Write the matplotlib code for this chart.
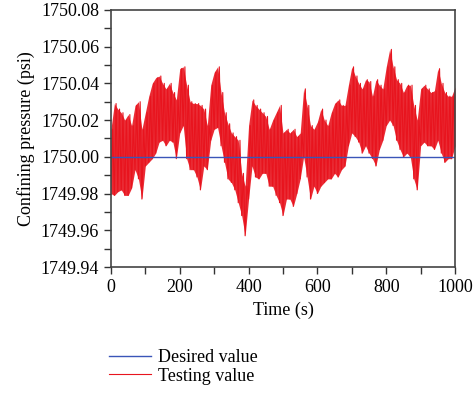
import matplotlib
matplotlib.use('Agg')
import matplotlib.pyplot as plt
from matplotlib.ticker import MultipleLocator
import numpy as np

# envelope of the testing signal read every 10 s (offset from 1750 psi)
time_steps = list(range(0, 1001, 10))
upper = [0.015, 0.029, 0.026, 0.024, 0.020, 0.023, 0.017, 0.028, 0.030, 0.015,
         0.024, 0.033, 0.040, 0.043, 0.044, 0.040, 0.037, 0.040, 0.035, 0.031,
         0.048, 0.049, 0.039, 0.030, 0.029, 0.029, 0.028, 0.026, 0.017, 0.039,
         0.046, 0.049, 0.035, 0.024, 0.018, 0.013, 0.011, 0.009, -0.009, -0.016,
         0.017, 0.031, 0.028, 0.026, 0.024, 0.022, 0.015, 0.020, 0.024, 0.028,
         0.013, 0.015, 0.013, 0.015, 0.011, 0.013, 0.037, 0.028, 0.017, 0.015,
         0.019, 0.026, 0.020, 0.017, 0.024, 0.029, 0.031, 0.028, 0.028, 0.039,
         0.049, 0.044, 0.040, 0.037, 0.042, 0.041, 0.033, 0.042, 0.039, 0.037,
         0.049, 0.0585, 0.049, 0.042, 0.040, 0.035, 0.039, 0.039, 0.028, 0.020,
         0.037, 0.039, 0.037, 0.035, 0.036, 0.048, 0.040, 0.035, 0.033, 0.033,
         0.038]
lower = [-0.020, -0.021, -0.019, -0.018, -0.021, -0.021, -0.017, -0.007, -0.012, -0.023,
         -0.005, -0.003, -0.001, 0.002, 0.008, 0.009, 0.006, 0.009, 0.008, -0.001,
         0.013, 0.017, -0.001, -0.007, -0.007, -0.011, -0.018, -0.005, -0.007, 0.009,
         0.015, 0.016, 0.006, -0.003, -0.012, -0.014, -0.018, -0.025, -0.032, -0.043,
         -0.023, -0.005, -0.011, -0.012, -0.009, -0.009, -0.016, -0.016, -0.021, -0.025,
         -0.032, -0.023, -0.023, -0.027, -0.020, -0.012, 0.000, -0.011, -0.023, -0.016,
         -0.020, -0.016, -0.014, -0.012, -0.012, -0.009, -0.011, -0.007, -0.005, 0.006,
         0.013, 0.011, 0.008, 0.002, 0.006, 0.002, -0.001, -0.005, 0.004, 0.009,
         0.017, 0.020, 0.017, 0.009, 0.004, 0.000, 0.002, 0.000, -0.012, -0.018,
         0.006, 0.008, 0.006, 0.006, 0.004, 0.009, 0.002, -0.003, -0.001, -0.001,
         0.006]
desired = 1750.00

# zigzag between the envelopes: low at each step, high half way between
t = []
p = []
for i, ts in enumerate(time_steps):
    t.append(ts)
    p.append(desired + lower[i])
    if i < len(time_steps) - 1:
        t.append(ts + 5)
        p.append(desired + upper[i])

red = '#e8141e'
plt.rcParams['font.family'] = ['Liberation Serif', 'DejaVu Serif']
plt.rcParams['font.size'] = 13

fig = plt.figure(figsize=(4.74, 3.95), dpi=100)
ax = fig.add_axes([0.234, 0.324, 0.726, 0.651])

ts_arr = np.array(time_steps)
ax.fill_between(ts_arr, desired + np.array(lower), desired + np.array(upper),
                color=red, lw=0, alpha=0.9)
l2, = ax.plot(t, p, color=red, lw=0.8)
l1, = ax.plot([0, 1000], [desired, desired], color='#3a55b8', lw=1.0)

ax.set_xlim(0, 1000)
ax.set_ylim(1749.94, 1750.08)
ax.xaxis.set_major_locator(MultipleLocator(200))
ax.xaxis.set_minor_locator(MultipleLocator(100))
ax.yaxis.set_major_locator(MultipleLocator(0.02))
ax.yaxis.set_minor_locator(MultipleLocator(0.01))
ax.yaxis.set_major_formatter(plt.FuncFormatter(lambda v, _: f'{v:.2f}'))
ax.tick_params(which='both', direction='out', length=5, width=1, color='#333333',
               top=False, right=False)
for s in ax.spines.values():
    s.set_color('#444444')
    s.set_linewidth(1.2)

ax.set_xlabel('Time (s)', labelpad=4)
ax.set_ylabel('Confining pressure (psi)', labelpad=4)

fig.legend([l1, l2], ['Desired value', 'Testing value'], loc='upper left',
           bbox_to_anchor=(0.215, 0.135), frameon=False, handlelength=2.3,
           handletextpad=0.4, labelspacing=0.1, borderaxespad=0)

fig.savefig('out.png', dpi=100)
